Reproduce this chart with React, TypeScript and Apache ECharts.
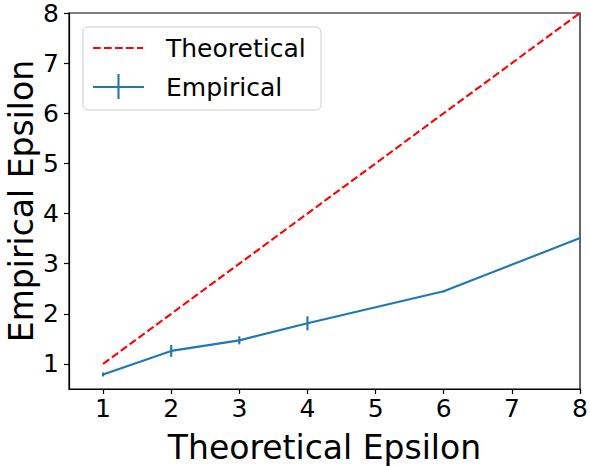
import React, { useEffect, useRef } from "react";
import * as echarts from "echarts";

const theoreticalX = [1, 2, 3, 4, 5, 6, 7, 8];
const theoreticalY = [1, 2, 3, 4, 5, 6, 7, 8];
const empiricalX = [1, 2, 3, 4, 6, 8];
const empiricalY = [0.79, 1.26, 1.47, 1.81, 2.45, 3.51];
const empiricalErr = [0.04, 0.12, 0.08, 0.14, 0.02, 0.13];
const xTicks = [1, 2, 3, 4, 5, 6, 7, 8];
const yTicks = [1, 2, 3, 4, 5, 6, 7, 8];

const FONT = "DejaVu Sans";
const BLUE = "#1f77b4";
const RED = "#ff0000";

export default function App() {
  const ref = useRef<HTMLDivElement>(null);
  useEffect(() => {
    document.body.style.margin = "0";
    const chart = echarts.init(ref.current!, null, { renderer: "svg" });
    const errData = empiricalX.map((x, i) => [x, empiricalY[i] - empiricalErr[i], empiricalY[i] + empiricalErr[i]]);
    chart.setOption({
      animation: false,
      textStyle: { fontFamily: FONT },
      grid: {
        left: 69,
        right: 10,
        top: 13,
        bottom: 77,
        containLabel: false,
        outerBoundsMode: "none",
        show: true,
        borderColor: "#000",
        borderWidth: 1.2,
        backgroundColor: "transparent",
      },
      xAxis: {
        type: "value",
        min: 0.5,
        max: 8,
        name: "Theoretical Epsilon",
        nameLocation: "middle",
        nameGap: 42,
        nameMoveOverlap: false,
        nameTextStyle: { fontSize: 33, color: "#000", fontFamily: FONT },
        axisLine: { show: true, lineStyle: { color: "#000", width: 1.2 } },
        axisTick: { show: true, length: 5, inside: false, customValues: xTicks, lineStyle: { color: "#000", width: 1.2 } },
        axisLabel: { fontSize: 25, color: "#000", margin: 7, fontFamily: FONT, customValues: xTicks },
        splitLine: { show: false },
      },
      yAxis: {
        type: "value",
        min: 0.5,
        max: 8,
        name: "Empirical Epsilon",
        nameLocation: "middle",
        nameGap: 31,
        nameMoveOverlap: false,
        nameTextStyle: { fontSize: 33, color: "#000", fontFamily: FONT },
        axisLine: { show: true, lineStyle: { color: "#000", width: 1.2 } },
        axisTick: { show: true, length: 5, inside: false, customValues: yTicks, lineStyle: { color: "#000", width: 1.2 } },
        axisLabel: { fontSize: 25, color: "#000", margin: 10, fontFamily: FONT, customValues: yTicks },
        splitLine: { show: false },
      },
      series: [
        {
          name: "Theoretical",
          type: "line",
          data: theoreticalX.map((x, i) => [x, theoreticalY[i]]),
          showSymbol: false,
          symbol: "none",
          lineStyle: { color: RED, width: 2.1, type: [7.7, 3.3] },
          clip: true,
        },
        {
          name: "Empirical",
          type: "line",
          data: empiricalX.map((x, i) => [x, empiricalY[i]]),
          showSymbol: false,
          symbol: "none",
          lineStyle: { color: BLUE, width: 2.1 },
          clip: true,
        },
        {
          name: "EmpiricalErr",
          type: "custom",
          data: errData,
          clip: true,
          renderItem: (params: any, api: any) => {
            const x = api.value(0);
            const lo = api.coord([x, api.value(1)]);
            const hi = api.coord([x, api.value(2)]);
            return {
              type: "line",
              shape: { x1: lo[0], y1: lo[1], x2: hi[0], y2: hi[1] },
              style: { stroke: BLUE, lineWidth: 2.1 },
            };
          },
        },
      ],
      graphic: [
        {
          type: "rect",
          shape: { x: 83, y: 27, width: 238, height: 83, r: 5 },
          style: { fill: "rgba(255,255,255,0.8)", stroke: "#cccccc", lineWidth: 1 },
          z: 10,
        },
        {
          type: "line",
          shape: { x1: 93, y1: 48, x2: 143, y2: 48 },
          style: { stroke: RED, lineWidth: 2.1, lineDash: [7.7, 3.3] },
          z: 11,
        },
        {
          type: "line",
          shape: { x1: 93, y1: 87, x2: 144, y2: 87 },
          style: { stroke: BLUE, lineWidth: 2.1 },
          z: 11,
        },
        {
          type: "line",
          shape: { x1: 118.5, y1: 74, x2: 118.5, y2: 99 },
          style: { stroke: BLUE, lineWidth: 2.1 },
          z: 11,
        },
        {
          type: "text",
          x: 166,
          y: 48,
          style: { text: "Theoretical", fontSize: 25, fontFamily: FONT, fill: "#000", textVerticalAlign: "middle", verticalAlign: "middle" },
          z: 11,
        },
        {
          type: "text",
          x: 166,
          y: 87,
          style: { text: "Empirical", fontSize: 25, fontFamily: FONT, fill: "#000", textVerticalAlign: "middle", verticalAlign: "middle" },
          z: 11,
        },
      ],
    });
    return () => chart.dispose();
  }, []);
  return <div ref={ref} style={{ width: 590, height: 466 }} />;
}
